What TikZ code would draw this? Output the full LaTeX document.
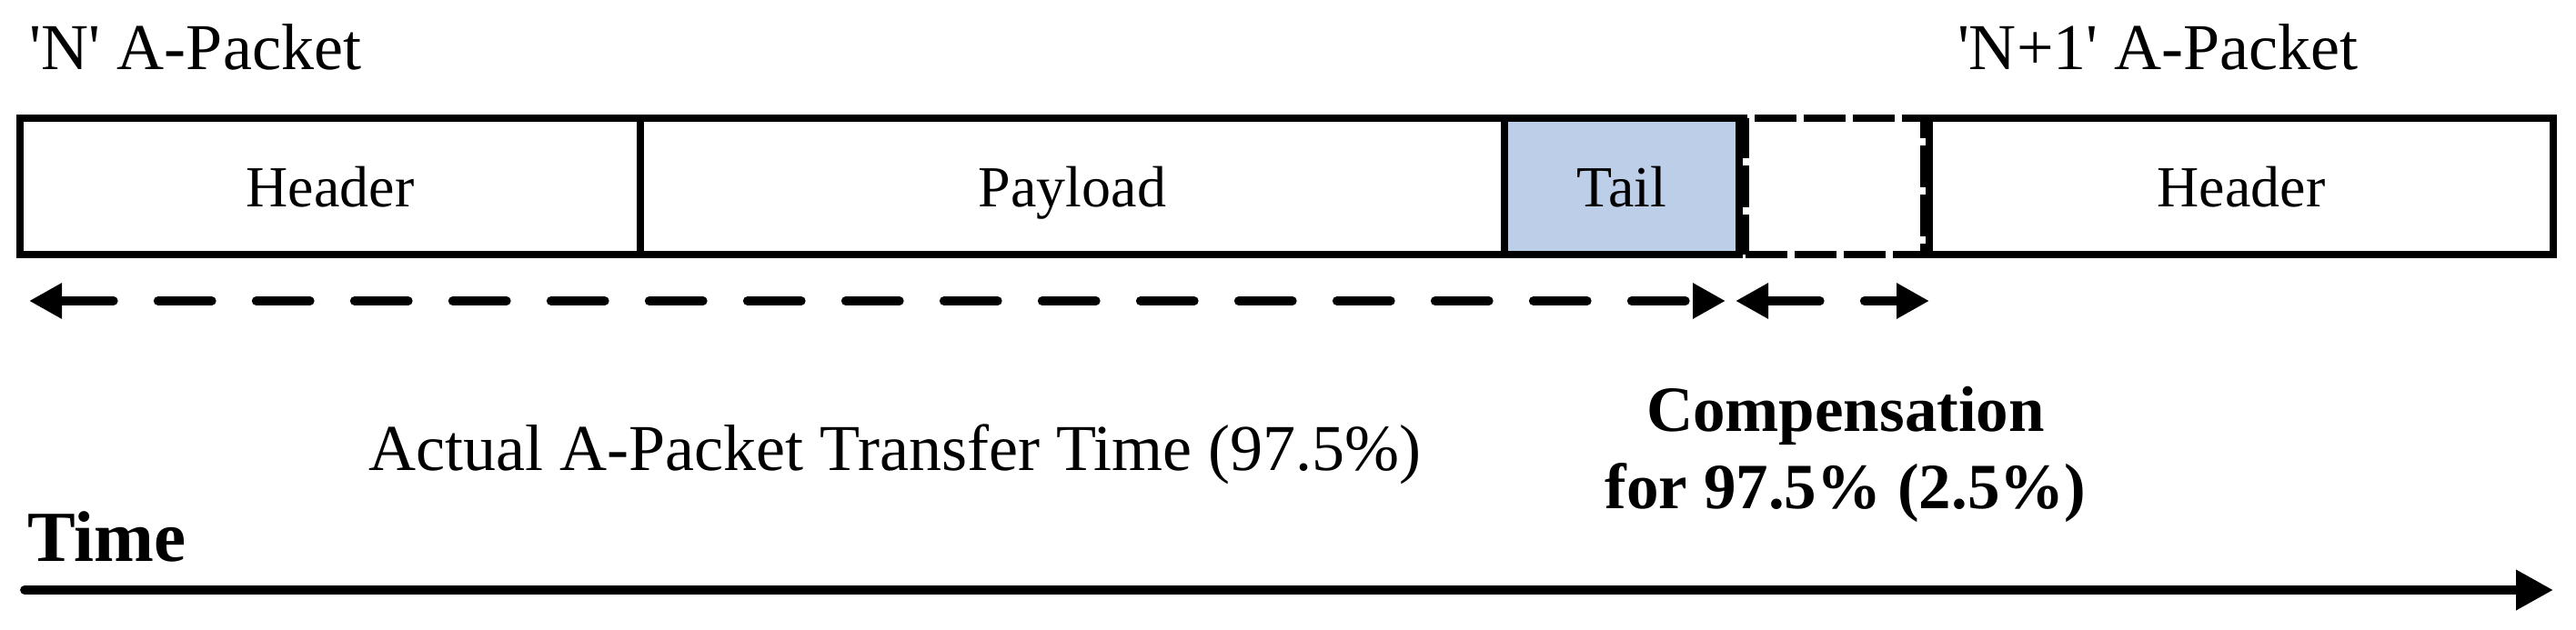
\documentclass[tikz,border=0pt]{standalone}
\usepackage{fontspec}
\setmainfont{Liberation Serif}
\usetikzlibrary{positioning,arrows.meta}
\definecolor{tailblue}{RGB}{189,207,232}
\begin{document}
\begin{tikzpicture}[
	every node/.style = {inner sep=0pt, outer sep=0pt},
	fieldbox/.style = {draw, line width=2.3pt, minimum height=1.5cm, font=\fontsize{18.2}{21.8}\selectfont, text height=0.45cm, text depth=0pt},
	gapbox/.style = {draw, line width=2.3pt, dash pattern=on 0.46cm off 0.08cm, minimum height=1.5cm},
	pkttext/.style = {font=\fontsize{20.5}{24.6}\selectfont, anchor=base west},
	spanarrow/.style = {line width=2.8pt, line cap=round, dash pattern=on 0.59cm off 0.49cm, {Triangle[length=0.36cm,width=0.37cm]}-{Triangle[length=0.36cm,width=0.37cm]}},
	timeline/.style = {line width=2.8pt, line cap=round, -{Triangle[length=0.41cm,width=0.42cm]}}]
	
	\useasboundingbox (0,0) rectangle (28.32,-6.93);
	
	\node[pkttext] (ntitle) at (0.33,-0.77) {\textquotesingle N\textquotesingle{} A-Packet};
	\node[pkttext] (nnexttitle) at (21.52,-0.77) {\textquotesingle N+1\textquotesingle{} A-Packet};
	
	\node[fieldbox, minimum width=6.82cm] (header1) at (3.63,-2.05) {Header};
	\node[fieldbox, minimum width=9.50cm, right=0pt of header1] (payload) {Payload};
	\node[fieldbox, minimum width=2.58cm, fill=tailblue, right=0pt of payload] (tail) {Tail};
	\node[gapbox, minimum width=1.96cm, right=0.07cm of tail] (gap) {};
	\node[fieldbox, minimum width=6.86cm, right=0.06cm of gap] (header2) {Header};
	
	\coordinate (actL) at ([xshift=0.1cm,yshift=-0.51cm]header1.south west);
	\coordinate (actR) at ([xshift=-0.15cm,yshift=-0.51cm]tail.south east);
	\coordinate (cmpL) at ([xshift=-0.04cm,yshift=-0.51cm]tail.south east);
	\coordinate (cmpR) at ([yshift=-0.51cm]header2.south west);
	\draw[spanarrow] (actL) -- (actR);
	\draw[spanarrow] (cmpL) -- (cmpR);
	
	\node[pkttext, anchor=base] (actual) at (9.84,-5.17) {Actual A-Packet Transfer Time (97.5\%)};
	\node[align=center, font=\bfseries\fontsize{20.2}{24.2}\selectfont] (comp) at (20.29,-5.00) {Compensation\\for 97.5\% (2.5\%)};
	
	\node[pkttext, font=\bfseries\fontsize{22.5}{27}\selectfont] (timelbl) at (0.30,-6.17) {Time};
	\coordinate (timeL) at (0.27,-6.49);
	\coordinate (timeR) at (28.07,-6.49);
	\draw[timeline] (timeL) -- (timeR);
\end{tikzpicture}
\end{document}
